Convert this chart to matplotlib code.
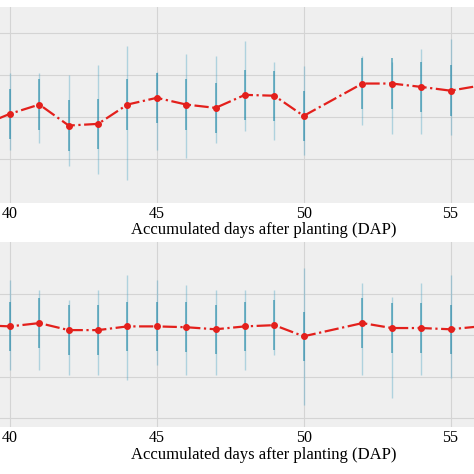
import matplotlib
matplotlib.use("Agg")
import matplotlib.pyplot as plt

days = [39, 40, 41, 42, 43, 44, 45, 46, 47, 48, 49, 50, 52, 53, 54, 55, 56]
top_mean = [1.78, 2.07, 2.29, 1.79, 1.83, 2.29, 2.45, 2.29, 2.21, 2.52, 2.50, 2.02, 2.79, 2.79, 2.71, 2.62, 2.74]
top_low = [1.2, 1.21, 1.38, 0.83, 0.64, 0.50, 1.21, 1.02, 1.38, 1.67, 1.45, 1.10, 1.80, 1.60, 1.60, 1.57, 1.70]
top_high = [3.0, 3.05, 3.05, 3.00, 3.24, 3.69, 3.07, 3.50, 3.45, 3.80, 3.30, 3.20, 3.45, 3.30, 3.60, 3.85, 3.50]
bot_mean = [3.25, 3.22, 3.30, 3.13, 3.13, 3.22, 3.22, 3.20, 3.15, 3.22, 3.25, 2.98, 3.30, 3.18, 3.18, 3.15, 3.22]
bot_low = [2.1, 2.16, 2.16, 2.04, 2.04, 1.92, 2.28, 2.04, 2.04, 2.16, 2.52, 1.31, 2.04, 1.48, 2.04, 1.97, 2.1]
bot_high = [4.2, 4.34, 4.10, 3.85, 4.10, 4.46, 4.34, 4.22, 4.10, 4.10, 4.10, 4.63, 4.27, 3.93, 4.27, 4.46, 4.2]
xticks = [40, 45, 50, 55]
xlabel = "Accumulated days after planting (DAP)"

plt.rcParams['font.family'] = ['Liberation Serif', 'DejaVu Serif']
fig = plt.figure(figsize=(4.74, 4.74), dpi=100)

def panel(rect, mean, low, high, ylim, yt):
    ax = fig.add_axes(rect)
    ax.set_facecolor('#efefef')
    ax.vlines(days, low, high, color='#3a9cc0', lw=1.0, alpha=0.35)
    ax.vlines(days, [m - 0.6 for m in mean], [m + 0.6 for m in mean], color='#1a85a5', lw=1.3, alpha=0.6)
    ax.plot(days, mean, color='#e3201c', ls='-.', lw=1.6, marker='o', ms=4, zorder=5)
    ax.set_xlim(39.66, 55.8)
    ax.set_ylim(*ylim)
    ax.set_xticks(xticks)
    ax.set_yticks(yt)
    ax.set_yticklabels([])
    ax.grid(True, color='#d4d4d4', lw=0.8)
    ax.set_axisbelow(True)
    for s in ax.spines.values():
        s.set_visible(False)
    ax.tick_params(length=0, labelsize=11.5, pad=2)
    ax.set_xlabel(xlabel, fontsize=12, labelpad=1)
    ax.xaxis.set_label_coords(0.557, -0.1 if rect[1] > 0.5 else -0.108)
    return ax

panel([0, 0.572, 1, 0.414], top_mean, top_low, top_high, (-0.05, 4.62), [1, 2, 3, 4])
panel([0, 0.099, 1, 0.39], bot_mean, bot_low, bot_high, (0.78, 5.26), [1, 2, 3, 4])
fig.savefig("out.png", dpi=100)
